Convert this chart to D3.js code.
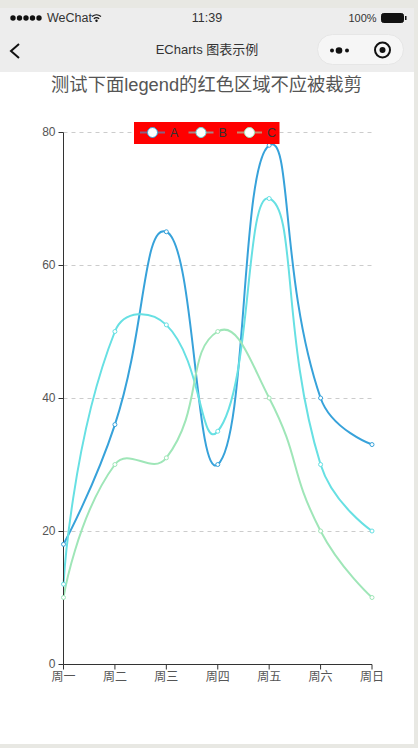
<!DOCTYPE html>
<html><head><meta charset="utf-8">
<style>html,body{margin:0;padding:0;background:#fff;overflow:hidden}svg{display:block}text{font-family:"Liberation Sans","Noto Sans CJK SC",sans-serif}</style>
<script src="https://cdn.jsdelivr.net/npm/d3@7/dist/d3.min.js"></script></head><body>
<svg id="c" width="418" height="748"></svg>
<script>
const categories=["周一","周二","周三","周四","周五","周六","周日"];
const seriesNames=["A","B","C"];
const seriesA=[18,36,65,30,78,40,33];
const seriesB=[12,50,51,35,70,30,20];
const seriesC=[10,30,31,50,40,20,10];
const seriesColors=["#37a2da","#67e0e3","#9fe6b8"];
const yTicks=[0,20,40,60,80];
const titleText="测试下面legend的红色区域不应被裁剪";
const navTitle="ECharts 图表示例";
const smoothness=0.5;

// d3 curve factory: distance-weighted smoothing, flat control points at the ends
function weightedCurve(context){
 let pts=[];
 return {
  areaStart(){},areaEnd(){},
  lineStart(){pts=[];},
  point(a,b){pts.push([+a,+b]);},
  lineEnd(){
   const n=pts.length,out=[],inn=[];
   pts.forEach((p,i)=>{
    if(i===0||i===n-1){out[i]=p;inn[i]=p;return;}
    const a=pts[i-1],b=pts[i+1];
    const vx=b[0]-a[0],vy=b[1]-a[1];
    const l0=Math.hypot(p[0]-a[0],p[1]-a[1]),l1=Math.hypot(b[0]-p[0],b[1]-p[1]);
    const r=l1/(l0+l1);
    inn[i]=[p[0]-vx*smoothness*(1-r),p[1]-vy*smoothness*(1-r)];
    out[i]=[p[0]+vx*smoothness*r,p[1]+vy*smoothness*r];
   });
   context.moveTo(pts[0][0],pts[0][1]);
   for(let i=1;i<n;i++)context.bezierCurveTo(out[i-1][0],out[i-1][1],inn[i][0],inn[i][1],pts[i][0],pts[i][1]);
  }
 };
}

const svg=d3.select("#c");
const R=(x,y,w,h,f)=>svg.append("rect").attr("x",x).attr("y",y).attr("width",w).attr("height",h).attr("fill",f);
const T=(x,y,s,size,fill,anchor)=>svg.append("text").attr("x",x).attr("y",y).attr("font-size",size).attr("fill",fill).attr("text-anchor",anchor||"start").text(s);

// page frame
R(0,0,418,748,"#e8e8e3");
R(0,8,414,736,"#ffffff");
R(0,8,414,64,"#ededed");

// status bar
d3.range(5).forEach(i=>svg.append("circle").attr("cx",13+i*6.5).attr("cy",18).attr("r",2.7).attr("fill","#111"));
T(47,22,"WeChat",12.5,"#333");
const wifi=svg.append("g").attr("fill","none").attr("stroke","#111").attr("stroke-width",1.2);
wifi.append("path").attr("d","M92 16.5Q96.5 13 101 16.5");
wifi.append("path").attr("d","M93.8 18.7Q96.5 16.5 99.2 18.7");
svg.append("circle").attr("cx",96.5).attr("cy",20.8).attr("r",1.2).attr("fill","#111");
T(207,22,"11:39",12.5,"#333","middle");
T(348.5,22,"100%",11,"#333");
svg.append("rect").attr("x",381.5).attr("y",13.5).attr("width",22).attr("height",9).attr("rx",2).attr("fill","#111").attr("stroke","#111");
R(405,16,1.5,4,"#111");

// nav bar
svg.append("path").attr("d","M19 44L11 51L19 58").attr("fill","none").attr("stroke","#111").attr("stroke-width",2);
T(207,54,navTitle,13,"#333","middle");
svg.append("rect").attr("x",317.5).attr("y",34.5).attr("width",86).attr("height",30).attr("rx",15).attr("fill","#f6f6f6").attr("stroke","#e6e6e6");
[[332,2],[339,3.3],[347,2]].forEach(d=>svg.append("circle").attr("cx",d[0]).attr("cy",50.5).attr("r",d[1]).attr("fill","#111"));
svg.append("circle").attr("cx",382.5).attr("cy",50).attr("r",7.5).attr("fill","none").attr("stroke","#111").attr("stroke-width",2);
svg.append("circle").attr("cx",382.5).attr("cy",50).attr("r",3).attr("fill","#111");

// title
T(206.5,91,titleText,18.3,"#555","middle");

// scales
const x=d3.scalePoint().domain(categories).range([63.5,372]);
const y=d3.scaleLinear().domain([0,80]).range([664,132]);

// grid
svg.append("g").selectAll("line").data(yTicks.filter(d=>d>0)).join("line")
 .attr("x1",63.5).attr("x2",372).attr("y1",d=>Math.round(y(d))+.5).attr("y2",d=>Math.round(y(d))+.5)
 .attr("stroke","#ccc").attr("stroke-dasharray","4,4");

// series
const line=d3.line().x((d,i)=>x(categories[i])).y(d=>y(d)).curve(weightedCurve);
[seriesA,seriesB,seriesC].forEach((s,k)=>{
 svg.append("path").attr("d",line(s)).attr("fill","none").attr("stroke",seriesColors[k]).attr("stroke-width",2);
});

// axes
const ax=svg.append("g").attr("transform","translate(0,664.5)").call(d3.axisBottom(x).offset(0).tickSize(5).tickSizeOuter(0).tickPadding(3));
const ay=svg.append("g").attr("transform","translate(63.5,0)").call(d3.axisLeft(y).offset(0.5).tickValues(yTicks).tickSize(5).tickSizeOuter(0).tickPadding(3));
ay.select("path").attr("transform","translate(-0.5,0)");
[ax,ay].forEach(a=>{a.selectAll("path,line").attr("stroke","#333");a.selectAll("text").attr("fill","#555").attr("font-size",12).attr("font-family",'"Liberation Sans","Noto Sans CJK SC",sans-serif');});

// symbols
[seriesA,seriesB,seriesC].forEach((s,k)=>{
 svg.append("g").selectAll("circle").data(s).join("circle")
  .attr("cx",(d,i)=>x(categories[i])).attr("cy",d=>y(d)).attr("r",2)
  .attr("fill","#fff").attr("stroke",seriesColors[k]).attr("stroke-width",1);
});

// legend
R(134,122,145.5,22,"#ff0000");
const legendX=d3.scalePoint().domain(seriesNames).range([140,237]);
seriesNames.forEach((n,k)=>{
 const lx=legendX(n);
 svg.append("line").attr("x1",lx).attr("x2",lx+25).attr("y1",132.5).attr("y2",132.5).attr("stroke",seriesColors[k]).attr("stroke-width",2).attr("opacity",.6);
 svg.append("circle").attr("cx",lx+12.5).attr("cy",132.5).attr("r",5).attr("fill","#fff").attr("stroke",seriesColors[k]).attr("stroke-width",1);
 T(lx+30,136.5,n,12.5,"#333");
});
</script></body></html>
